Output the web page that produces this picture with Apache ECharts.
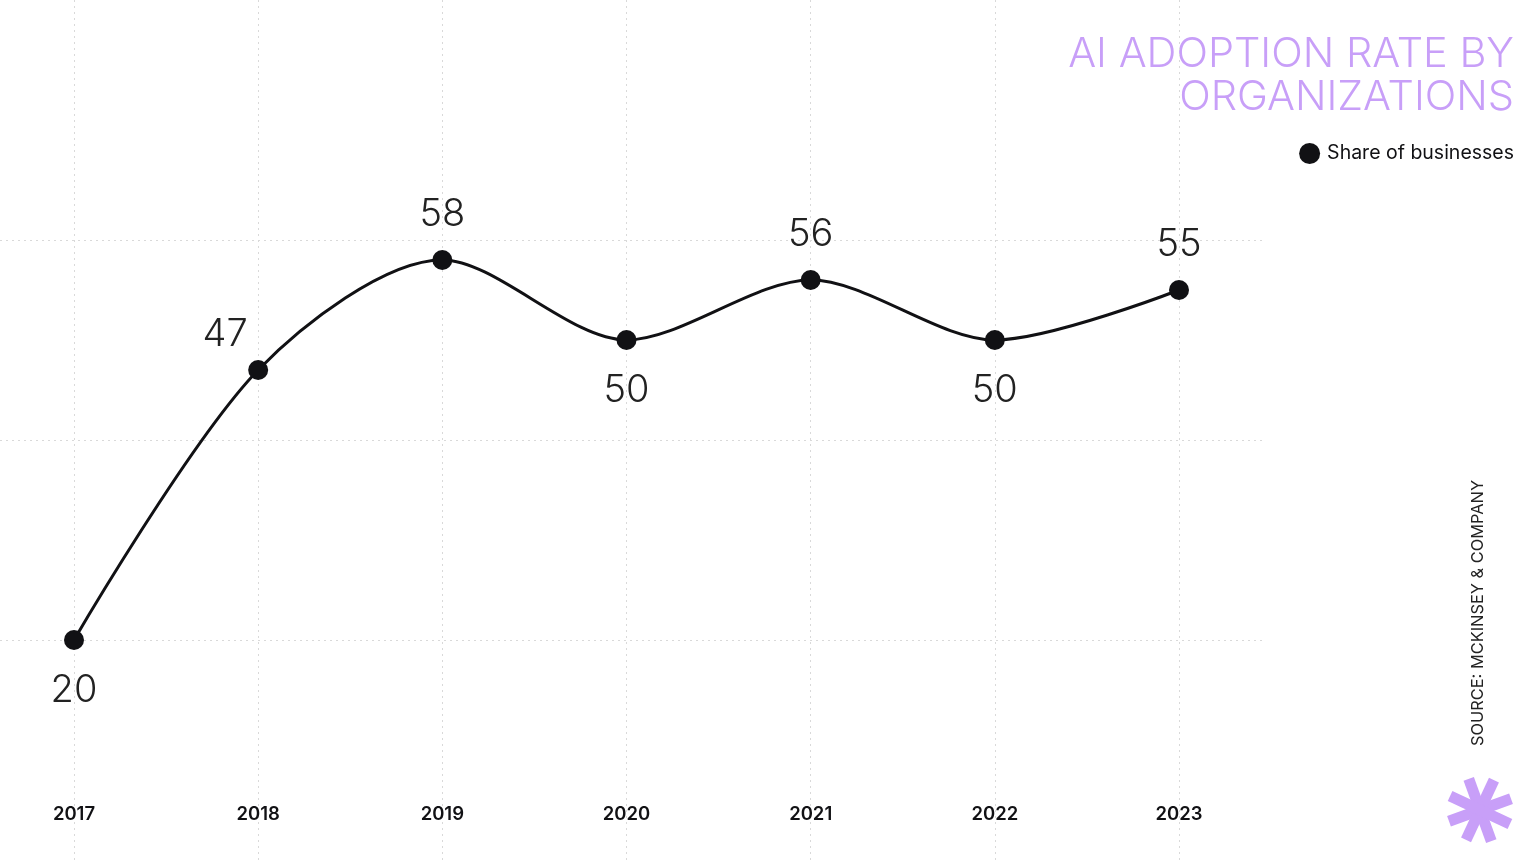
<!DOCTYPE html>
<html>
<head>
<meta charset="utf-8">
<script src="https://cdn.jsdelivr.net/npm/echarts@6/dist/echarts.min.js"></script>
<style>
  html, body { margin: 0; padding: 0; background: #ffffff; }
  #chart { width: 1536px; height: 864px; }
</style>
</head>
<body>
<div id="chart"></div>
<script>
// ---- data ----
var years = ['2017', '2018', '2019', '2020', '2021', '2022', '2023'];
var shareOfBusinesses = [20, 47, 58, 50, 56, 50, 55];
var seriesName = 'Share of businesses';
var titleText = 'AI ADOPTION RATE BY\nORGANIZATIONS';
var sourceText = 'SOURCE: MCKINSEY & COMPANY';
var labelSide = ['bottom', 'left', 'top', 'bottom', 'top', 'bottom', 'top'];

var chart = echarts.init(document.getElementById('chart'), null, { renderer: 'canvas' });

var lilac = '#c89ff8';
var ink = '#111114';
var gridColor = '#d9d9d9';

var pointData = shareOfBusinesses.map(function (v, i) {
  var side = labelSide[i];
  var label;
  if (side === 'top') {
    label = { position: 'top', distance: 16 };
  } else if (side === 'bottom') {
    label = { position: 'bottom', distance: 22 };
  } else {
    label = { position: 'top', distance: 16, offset: [-33, 10] };
  }
  return { value: v, label: label };
});

var option = {
  backgroundColor: '#ffffff',
  animation: false,
  grid: [
    { left: 74, right: 357, top: 40, bottom: 24 },   // data
    { left: 0, right: 272, top: 40, bottom: 24 },    // horizontal guide lines
    { left: 74, right: 357, top: 0, bottom: 0 }      // vertical guide lines + year labels
  ],
  xAxis: [
    { gridIndex: 0, type: 'category', data: years, boundaryGap: false, show: false },
    { gridIndex: 1, type: 'value', min: 0, max: 1, show: false },
    {
      gridIndex: 2, type: 'category', data: years, boundaryGap: false,
      axisLine: { show: false }, axisTick: { show: false },
      splitLine: { show: true, lineStyle: { color: gridColor, type: [2, 4], width: 1 } },
      axisLabel: {
        inside: true, margin: 41,
        color: ink, fontFamily: 'Inter', fontWeight: 600, fontSize: 18.5, lineHeight: 18
      }
    }
  ],
  yAxis: [
    { gridIndex: 0, type: 'value', min: 0, max: 80, interval: 20, show: false },
    {
      gridIndex: 1, type: 'value', min: 0, max: 80, interval: 20,
      axisLine: { show: false }, axisTick: { show: false }, axisLabel: { show: false },
      splitLine: { show: true, showMinLine: false, showMaxLine: false,
        lineStyle: { color: gridColor, type: [2, 4], width: 1 } }
    },
    { gridIndex: 2, type: 'value', min: 0, max: 1, show: false }
  ],
  legend: {
    right: 17, top: 138,
    icon: 'circle', itemWidth: 21, itemHeight: 21, itemGap: 10,
    textStyle: { color: ink, fontFamily: 'Inter', fontSize: 19.5, padding: [0, 0, 0, 2] },
    data: [{ name: seriesName, itemStyle: { color: ink } }]
  },
  series: [
    {
      name: seriesName,
      type: 'line',
      xAxisIndex: 0, yAxisIndex: 0,
      data: pointData,
      smooth: 0.3,
      clip: false,
      symbol: 'circle',
      symbolSize: 20,
      itemStyle: { color: ink },
      lineStyle: { color: ink, width: 3 },
      label: {
        show: true,
        color: '#222222',
        fontFamily: 'Inter',
        fontWeight: 300,
        fontSize: 38,
        lineHeight: 38
      }
    }
  ],
  graphic: [
    {
      type: 'text',
      x: 1514, y: 33,
      style: {
        text: titleText,
        textAlign: 'right',
        fill: lilac,
        fontFamily: 'Inter',
        fontWeight: 300,
        fontSize: 41.5,
        lineHeight: 43
      }
    },
    {
      type: 'text',
      x: 1478, y: 613,
      rotation: Math.PI / 2,
      style: {
        text: sourceText,
        textAlign: 'center',
        textVerticalAlign: 'middle',
        fill: '#222222',
        fontFamily: 'Inter',
        fontSize: 16.4
      }
    },
    {
      type: 'group',
      x: 1480, y: 810,
      children: [0, 1, 2, 3].map(function (k) {
        return {
          type: 'rect',
          rotation: (20 + k * 45) * Math.PI / 180,
          shape: { x: -33, y: -5.5, width: 66, height: 11 },
          style: { fill: lilac }
        };
      })
    }
  ]
};

chart.setOption(option);
</script>
</body>
</html>
